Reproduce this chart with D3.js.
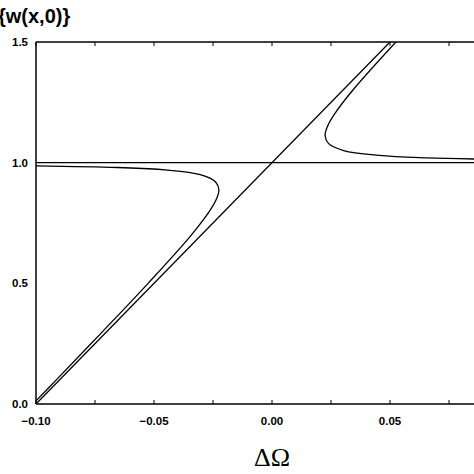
<!DOCTYPE html>
<html><head><meta charset="utf-8">
<script src="https://cdn.jsdelivr.net/npm/d3@7"></script>
<style>body{margin:0;background:#fff}svg{display:block}</style>
</head><body><svg width="474" height="474"></svg>
<script>
// line values
const flatLine = [[-0.1, 1.0], [0.1, 1.0]];
const diagLine = [[-0.1, 0.0], [0.05, 1.5]];
const leftBranch = [[-0.1003, 0.01], [-0.0914, 0.1], [-0.0718, 0.3], [-0.0525, 0.5], [-0.0342, 0.7],
  [-0.0264, 0.8], [-0.0235, 0.85], [-0.0225, 0.8875], [-0.0239, 0.92], [-0.0304, 0.95],
  [-0.0453, 0.97], [-0.0655, 0.98], [-0.1, 0.987]];
const rightBranch = [[0.0525, 1.5], [0.0342, 1.3], [0.0264, 1.2], [0.0235, 1.15], [0.0225, 1.1125],
  [0.0239, 1.08], [0.0304, 1.05], [0.0453, 1.03], [0.0655, 1.02], [0.1, 1.013]];
const xTicks = [-0.10, -0.05, 0.00, 0.05];
const yTicks = [0.0, 0.5, 1.0, 1.5];

const svg = d3.select("svg");
const x = d3.scaleLinear().domain([-0.1, 0.1]).range([36, 508]);
const y = d3.scaleLinear().domain([0, 1.5]).range([404, 42]);

svg.append("defs").append("clipPath").attr("id", "c")
  .append("rect").attr("x", 36).attr("y", 42).attr("width", 472).attr("height", 362);

const line = d3.line().x(d => x(d[0])).y(d => y(d[1])).curve(d3.curveCatmullRom);
const g = svg.append("g").attr("clip-path", "url(#c)");
[flatLine, diagLine, leftBranch, rightBranch].forEach(d => {
  g.append("path").attr("d", line(d)).attr("fill", "none").attr("stroke", "#000").attr("stroke-width", 1.3);
});

// frame
svg.append("line").attr("x1", 36).attr("x2", 474).attr("y1", y(1.5)).attr("y2", y(1.5)).attr("stroke", "#000").attr("stroke-width", 1.5);
svg.append("line").attr("x1", 36).attr("x2", 474).attr("y1", y(0)).attr("y2", y(0)).attr("stroke", "#000").attr("stroke-width", 1.5);
svg.append("line").attr("x1", 36).attr("x2", 36).attr("y1", y(0)).attr("y2", y(1.5)).attr("stroke", "#000").attr("stroke-width", 1.5);

// inward minor ticks
d3.range(-0.1, 0.1001, 0.025).forEach(t => {
  svg.append("line").attr("x1", x(t)).attr("x2", x(t)).attr("y1", y(0)).attr("y2", y(0) - 4).attr("stroke", "#000");
  svg.append("line").attr("x1", x(t)).attr("x2", x(t)).attr("y1", y(1.5)).attr("y2", y(1.5) + 4).attr("stroke", "#000");
});

const font = "Liberation Sans, Arial, sans-serif";
svg.selectAll(".xt").data(xTicks).enter().append("text")
  .attr("x", d => x(d)).attr("y", 425).attr("text-anchor", "middle").attr("font-weight", "bold")
  .attr("font-family", font).attr("font-size", 11.5).text(d => d3.format(".2f")(d));
svg.selectAll(".yt").data(yTicks).enter().append("text")
  .attr("x", 28).attr("y", d => y(d) + 4).attr("text-anchor", "end").attr("font-weight", "bold")
  .attr("font-family", font).attr("font-size", 11.5).text(d => d3.format(".1f")(d));

svg.append("text").attr("x", -2).attr("y", 23).attr("font-family", font).attr("font-weight", "bold")
  .attr("font-size", 20).text("{w(x,0)}");
svg.append("text").attr("x", 272).attr("y", 466).attr("text-anchor", "middle")
  .attr("font-family", "Liberation Serif, Times New Roman, serif").attr("font-size", 26).text("ΔΩ");
</script></body></html>
